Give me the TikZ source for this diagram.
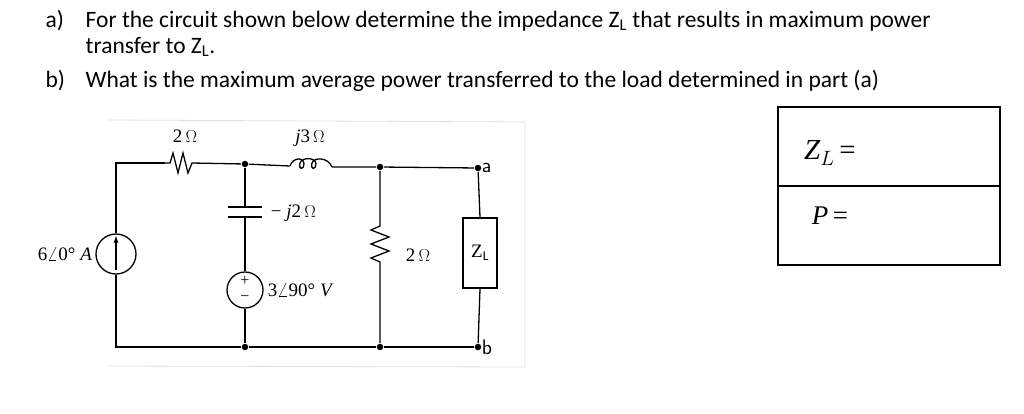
\documentclass[tikz,border=0pt]{standalone}
\usepackage{fontspec}
\setmainfont{Carlito}
\newfontfamily\tnr{Liberation Serif}
\begin{document}
\begin{tikzpicture}[x=1pt,y=-1pt,line width=1.3pt,
  dot/.style={circle,fill,inner sep=2.3pt},
  lbl/.style={font=\tnr\fontsize{19}{21}\selectfont},
  qtxt/.style={anchor=base west,font=\fontsize{23.5}{25}\selectfont,inner sep=0}]
\useasboundingbox (0,0) rectangle (1024,413);
% text
\node[qtxt] (qa) at (45,27) {a)};
\node[qtxt] (qa1) at (85,27) {For the circuit shown below determine the impedance Z$_{\mathrm L}$ that results in maximum power};
\node[qtxt] (qa2) at (85,53) {transfer to Z$_{\mathrm L}$.};
\node[qtxt] (qb) at (45,87) {b)};
\node[qtxt] (qb1) at (85,87) {What is the maximum average power transferred to the load determined in part (a)};
% frame
\draw[gray!25,line width=0.8pt] (108,120) -- (525,122) -- (525,367) -- (108,366);
% coordinates
\coordinate (tl) at (116,163);
\coordinate (bl) at (116,347);
\node[dot] (n1) at (245,164) {};
\node[dot] (n2) at (380,167) {};
\node[dot] (na) at (478,168) {};
\node[dot] (b1) at (245,347) {};
\node[dot] (b2) at (380,347) {};
\node[dot] (nb) at (478,347) {};
\node[right=0pt,font=\sffamily\fontsize{21}{21}\selectfont] (la) at (na) {a};
\node[right=0pt,font=\sffamily\fontsize{21}{21}\selectfont] (lb) at (nb) {b};
% current source
\node[circle,draw,minimum size=40pt,inner sep=0] (cs) at (116,254) {};
\draw[-latex] (116,270) -- (116,236);
\node[lbl,anchor=east] (csl) at (96,254) {6$\angle$0° \textit{A}};
\draw (cs.north) -- (tl) -- (165,163);
\draw (cs.south) -- (bl) -- (b1) -- (b2) -- (nb);
% resistor top
\draw (165,163) -- (170,163) -- (173,153) -- (178,173) -- (183,153) -- (188,173) -- (192,163) -- (n1);
\node[lbl] (r1l) at (185,136) {2\,$\Omega$};
% inductor
\draw (n1) -- (290,166);
\draw (290,166) .. controls (293,157) and (304,157) .. (304,164) .. controls (304,170) and (298,170) .. (300,163)
  .. controls (302,157) and (316,157) .. (316,164) .. controls (316,170) and (310,170) .. (312,163)
  .. controls (314,157) and (328,157) .. (332,167);
\draw (332,167) -- (n2) -- (na);
\node[lbl] (ll) at (310,138) {\textit{j}3\,$\Omega$};
% capacitor
\draw (n1) -- (245,207);
\draw (228,207) -- (262,207);
\draw (228,217) -- (262,217);
\node[lbl,anchor=west] (cl) at (267,213) {− \textit{j}2\,$\Omega$};
% voltage source
\node[circle,draw,minimum size=36pt,inner sep=0] (vs) at (245,290) {};
\node[font=\tnr\fontsize{16}{16}\selectfont,inner sep=0] (vp) at (245,281) {+};
\node[font=\tnr\fontsize{16}{16}\selectfont,inner sep=0] (vm) at (245,299) {−};
\draw (245,217) -- (vs.north);
\draw (vs.south) -- (b1);
\node[lbl,anchor=west] (vl) at (264,290) {3$\angle$90° \textit{V}};
% resistor vertical
\draw (n2) -- (380,226) -- (371,230) -- (389,237) -- (371,244) -- (389,251) -- (371,258) -- (380,262) -- (b2);
\node[lbl,anchor=west] (r2l) at (402,255) {2\,$\Omega$};
% ZL
\node[draw,minimum width=34pt,minimum height=70pt,inner sep=0,lbl] (zl) at (480,253) {Z$_{\mathrm L}$};
\draw (na) -- (zl.north);
\draw (zl.south) -- (nb);
% table
\draw[line width=1.5pt] (778,107) rectangle (1000,265);
\draw[line width=1.5pt] (778,186) -- (1000,186);
\node[font=\tnr\fontsize{29}{29}\selectfont] (zt) at (830,153) {\textit{Z$_L$}\,=};
\node[font=\tnr\fontsize{27}{27}\selectfont] (pt) at (830,216) {\textit{P}\,=};
\end{tikzpicture}
\end{document}
